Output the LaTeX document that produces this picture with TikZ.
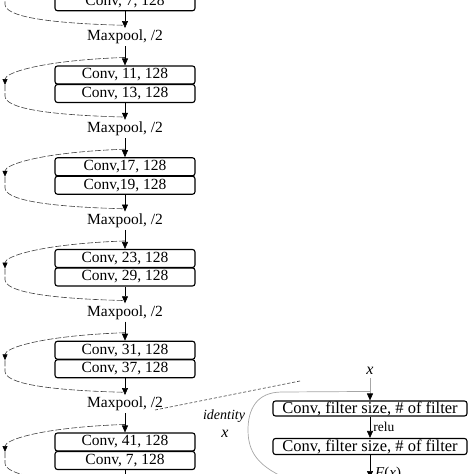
\documentclass[tikz,border=0pt]{standalone}
\usepackage{fontspec}
\setmainfont{Liberation Serif}
\usetikzlibrary{arrows.meta,positioning,calc}

\tikzset{
  conv/.style={draw,line width=1.1pt,rounded corners=2.5pt,minimum width=140pt,
    minimum height=18pt,inner sep=0pt,font=\fontsize{15.5}{15.5}\selectfont},
  pool/.style={inner sep=2pt,font=\fontsize{15.5}{15.5}\selectfont},
  flow/.style={line width=0.6pt,-{Triangle[length=7pt,width=6pt,color=black]}},
  skip/.style={gray!50!black,line width=0.6pt,dash pattern=on 6pt off 2pt},
  callout/.style={gray!50!black,line width=0.6pt,dash pattern=on 3pt off 2pt},
  idpath/.style={gray!70,line width=0.7pt},
}

\begin{document}
\begin{tikzpicture}[x=1pt,y=-1pt]
   \useasboundingbox (0,0) rectangle (474,474);
   % residual blocks
   \foreach \i/\a/\b in {0/{}/{Conv, 7, 128},1/{Conv, 11, 128}/{Conv, 13, 128},
     2/{Conv,17, 128}/{Conv,19, 128},3/{Conv, 23, 128}/{Conv, 29, 128},
     4/{Conv, 31, 128}/{Conv, 37, 128},5/{Conv, 41, 128}/{Conv, 7, 128}} {
    \pgfmathsetmacro\T{91.75*\i-25.75}
    \node[conv] (a\i) at (125,\T+9) {\a};
    \node[conv] (b\i) at (125,\T+27.5) {\b};
    \ifnum\i<5
      \node[pool] (p\i) at (125,\T+63) {Maxpool, /2};
      \draw[flow] (b\i) -- (p\i);
    \fi
    \ifnum\i>0
      \pgfmathtruncatemacro\k{\i-1}
      \draw[flow] (p\k) -- (a\i);
    \fi
    \coordinate (s\i) at ([yshift=8pt]a\i.north);
    \coordinate (m\i) at (5,\T+19);
    \coordinate (e\i) at ([yshift=-14pt]b\i.south);
    \draw[skip,-{Triangle[length=6pt,width=5pt,color=black]}]
      (s\i) .. controls +(-85,3) and +(0,-12) .. (m\i);
    \draw[skip] (m\i) -- ++(0,11) .. controls +(0,12) and +(-80,-2) .. (e\i);
   }
   \coordinate (out) at ([yshift=-30pt]b5.south);
   \draw[flow] (b5) -- (out);

   % building block
   \node[font=\fontsize{16}{16}\selectfont] (xin) at (370,371) {\textit{x}};
   \node[conv,minimum width=194pt,minimum height=15pt,font=\fontsize{16.5}{16.5}\selectfont]
     (c1) at (370,408.5) {Conv, filter size, \# of filter};
   \node[conv,minimum width=194pt,minimum height=16pt,font=\fontsize{16.5}{16.5}\selectfont]
     (c2) at (370,446.5) {Conv, filter size, \# of filter};
   \coordinate (fout) at (370,478);
   \draw[flow,gray!70] (xin) -- (c1);
   \draw[flow] (c1) -- node[right,inner sep=3pt,font=\fontsize{13.5}{13.5}\selectfont] (relu) {relu} (c2);
   \draw[flow] (c2) -- (fout);
   \node[anchor=north west,inner sep=1pt,font=\fontsize{15}{15}\selectfont] (fx) at (374,466)
     {\textit{F}(\textit{x})};
   \coordinate (br) at ([yshift=9pt]c1.north);
   \coordinate (sum) at (300,484);
   \draw[idpath] (br) -- (282,392) .. controls (256,392) and (248,410) .. (248,430)
     .. controls (248,456) and (262,470) .. (sum);
   \node[font=\fontsize{14}{14}\itshape] (idt) at (224,416) {identity};
   \node[font=\fontsize{16}{16}\selectfont] (xid) at (225,434) {\textit{x}};
   \coordinate (z1) at (155,410);
   \coordinate (z2) at (300,381);
   \draw[callout] (z1) -- (z2);
\end{tikzpicture}
\end{document}
